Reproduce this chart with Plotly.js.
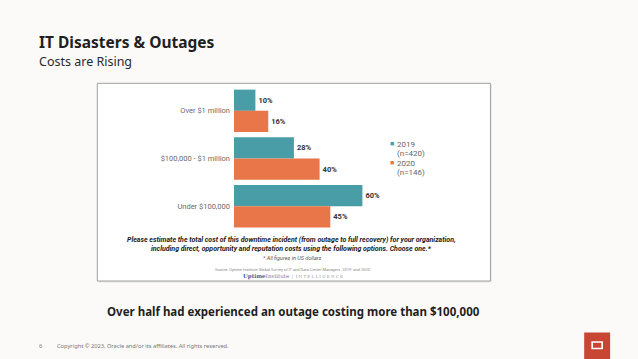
<!DOCTYPE html>
<html>
<head>
<meta charset="utf-8">
<script src="https://cdn.plot.ly/plotly-3.0.1.min.js"></script>
<style>
html,body{margin:0;padding:0;background:#fbfaf8;}
#chart{width:638px;height:359px;}
</style>
</head>
<body>
<div id="chart"></div>
<script>
// ---- data ----
var categories = ["Over $1 million", "$100,000 - $1 million", "Under $100,000"];
var values2019 = [10, 28, 60];
var values2020 = [16, 40, 45];
var seriesNames = ["2019", "2020"];
var seriesN = ["(n=420)", "(n=146)"];

// ---- layout geometry (pixels) ----
var W = 638, H = 359;
var PL = 234, PR = 448.5, PT = 87, PB = 230;
function px(x){ return (x - PL) / (PR - PL); }
function py(y){ return (PB - y) / (PB - PT); }

var teal = "#489da6", orange = "#e87648";
var labFont = {family: "Roboto, 'Open Sans', sans-serif", size: 7.5, color: "#333333", weight: "bold"};

var traces = [
  {type: "bar", orientation: "h", name: seriesNames[0], y: categories, x: values2019,
   marker: {color: teal}, texttemplate: "%{x}%", textposition: "outside",
   textfont: labFont, cliponaxis: false, hoverinfo: "skip"},
  {type: "bar", orientation: "h", name: seriesNames[1], y: categories, x: values2020,
   marker: {color: orange}, texttemplate: "%{x}%", textposition: "outside",
   textfont: labFont, cliponaxis: false, hoverinfo: "skip"}
];

var sans = "'Noto Sans', 'Open Sans', sans-serif";
var rob = "Roboto, 'Open Sans', sans-serif";
var ann = [];
function A(text, x, y, opts){
  var a = {text: text, x: px(x), y: py(y), xref: "paper", yref: "paper", showarrow: false,
           xanchor: "left", yanchor: "middle", borderpad: 0, borderwidth: 0};
  for (var k in opts) a[k] = opts[k];
  ann.push(a);
}
// slide titles
A("<b>IT Disasters & Outages</b>", 38.5, 42.5, {font: {family: sans, size: 15.5, color: "#1f1f1f"}});
A("Costs are Rising", 38.5, 61.5, {font: {family: sans, size: 12.5, color: "#2a2a2a"}});
// legend
A("■", 390.5, 144, {font: {family: rob, size: 7, color: teal}});
A(seriesNames[0], 397, 144, {font: {family: rob, size: 8, color: "#666666"}});
A(seriesN[0], 397, 153.5, {font: {family: rob, size: 8, color: "#666666"}});
A("■", 390.5, 163, {font: {family: rob, size: 7, color: orange}});
A(seriesNames[1], 397, 163, {font: {family: rob, size: 8, color: "#666666"}});
A(seriesN[1], 397, 172.5, {font: {family: rob, size: 8, color: "#666666"}});
// question text
A("<b><i>Please estimate the total cost of this downtime incident (from outage to full recovery) for your organization,</i></b>",
  292, 240, {xanchor: "center", font: {family: rob, size: 7, color: "#1a1a1a"}});
A("<b><i>including direct, opportunity and reputation costs using the following options. Choose one.*</i></b>",
  292, 248.5, {xanchor: "center", font: {family: rob, size: 7, color: "#1a1a1a"}});
A("<i>* All figures in US dollars</i>", 292.5, 257.5, {xanchor: "center", font: {family: rob, size: 5.5, color: "#555555"}});
A("Source: Uptime Institute Global Survey of IT and Data Center Managers  2019  and 2020",
  293.5, 269, {xanchor: "center", font: {family: rob, size: 4, color: "#888888"}});
A("<b><span style='color:#2d5fa0'>Uptime</span></b><span style='color:#6c84a8'>Institute</span><span style='color:#999999;font-size:4px'>  |  I N T E L L I G E N C E</span>",
  293.5, 276.5, {xanchor: "center", font: {family: "'DejaVu Serif', serif", size: 5.5, color: "#2d5fa0"}});
// bottom message
A("<b>Over half had experienced an outage costing more than $100,000</b>", 293.5, 311.5,
  {xanchor: "center", font: {family: sans, size: 11.5, color: "#1f1f1f"}});
// footer
A("6", 39, 345.5, {font: {family: sans, size: 5.7, color: "#777777"}});
A("Copyright © 2023, Oracle and/or its affiliates. All rights reserved.", 57, 345.5,
  {font: {family: sans, size: 5.7, color: "#777777"}});

var shapes = [
  // shadow
  {type: "rect", xref: "paper", yref: "paper", x0: px(98), x1: px(492.5), y0: py(84.5), y1: py(282.5),
   line: {width: 0}, fillcolor: "rgba(0,0,0,0.08)", layer: "below"},
  // white box
  {type: "rect", xref: "paper", yref: "paper", x0: px(97), x1: px(491), y0: py(83.3), y1: py(281),
   line: {width: 1, color: "#a0a0a0"}, fillcolor: "#ffffff", layer: "below"},
  // oracle logo
  {type: "rect", xref: "paper", yref: "paper", x0: px(585), x1: px(611), y0: py(332.5), y1: py(360),
   line: {width: 0}, fillcolor: "#c74634"},
  {type: "rect", xref: "paper", yref: "paper", x0: px(593), x1: px(603), y0: py(342), y1: py(348.5),
   line: {width: 1.6, color: "#ffffff"}, fillcolor: "rgba(0,0,0,0)"}
];

var layout = {
  width: W, height: H,
  margin: {l: PL, r: W - PR, t: PT, b: H - PB, pad: 0},
  paper_bgcolor: "#fbfaf8", plot_bgcolor: "rgba(0,0,0,0)",
  barmode: "group", bargap: 0.11, bargroupgap: 0,
  showlegend: false,
  xaxis: {range: [0, 100], visible: false, fixedrange: true},
  yaxis: {type: "category", categoryorder: "array", categoryarray: categories,
          autorange: "reversed", showgrid: false, zeroline: false, showline: false,
          ticks: "", ticklabelstandoff: 3,
          tickfont: {family: rob, size: 7.5, color: "#6a6a6a"}, fixedrange: true},
  annotations: ann,
  shapes: shapes,
  font: {family: rob}
};

Plotly.newPlot("chart", traces, layout, {displayModeBar: false, staticPlot: true});
</script>
</body>
</html>
